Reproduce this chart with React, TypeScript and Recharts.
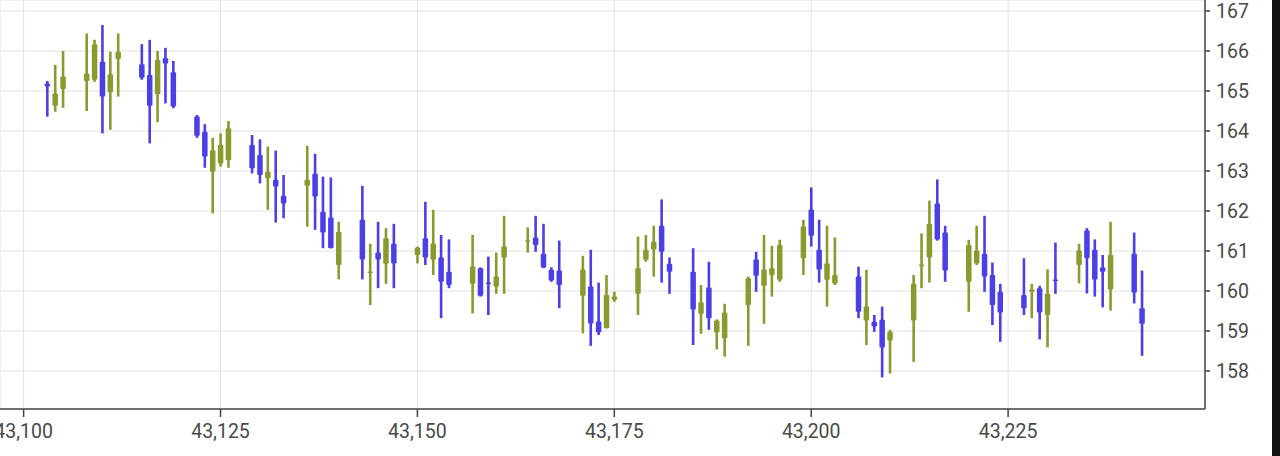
import React from 'react';
import { ComposedChart, Bar, XAxis, YAxis, CartesianGrid } from 'recharts';

const days = [
  43103, 43104, 43105, 43108, 43109, 43110, 43111, 43112, 43115, 43116,
  43117, 43118, 43119, 43122, 43123, 43124, 43125, 43126, 43129, 43130,
  43131, 43132, 43133, 43136, 43137, 43138, 43139, 43140, 43143, 43144,
  43145, 43146, 43147, 43150, 43151, 43152, 43153, 43154, 43157, 43158,
  43159, 43160, 43161, 43164, 43165, 43166, 43167, 43168, 43171, 43172,
  43173, 43174, 43175, 43178, 43179, 43180, 43181, 43182, 43185, 43186,
  43187, 43188, 43189, 43192, 43193, 43194, 43195, 43196, 43199, 43200,
  43201, 43202, 43203, 43206, 43207, 43208, 43209, 43210, 43213, 43214,
  43215, 43216, 43217, 43220, 43221, 43222, 43223, 43224, 43227, 43228,
  43229, 43230, 43231, 43234, 43235, 43236, 43237, 43238, 43241, 43242,
];

const opens = [
  165.19, 164.63, 165.05, 165.25, 165.28, 165.73, 164.97, 165.8, 165.67, 165.4,
  164.92, 165.82, 165.47, 164.36, 163.98, 162.98, 163.19, 163.27, 163.65, 163.4,
  162.82, 162.78, 162.38, 162.63, 162.93, 161.98, 161.84, 160.65, 161.78, 160.47,
  160.96, 160.68, 161.18, 160.9, 161.32, 160.78, 160.84, 160.48, 160.18, 160.57,
  160.21, 160.11, 160.84, 161.25, 161.34, 160.93, 160.53, 160.51, 159.88, 160.11,
  159.24, 159.07, 159.78, 159.93, 160.78, 161.04, 161.63, 160.68, 160.48, 159.43,
  160.09, 158.96, 158.82, 159.65, 160.79, 160.13, 160.4, 160.28, 160.82, 162.04,
  161.03, 160.28, 160.19, 160.36, 159.26, 159.23, 159.28, 158.76, 159.26, 160.64,
  160.84, 162.19, 161.46, 160.23, 160.69, 160.93, 160.4, 159.98, 159.9, 159.98,
  160.07, 159.4, 160.29, 160.65, 161.51, 161.03, 160.59, 160.04, 160.93, 159.57,
];

const highs = [
  165.25, 165.65, 166.0, 166.44, 166.28, 166.65, 165.98, 166.44, 166.17, 166.28,
  166.0, 166.08, 165.75, 164.4, 164.17, 163.83, 163.94, 164.25, 163.9, 163.79,
  163.61, 163.51, 162.9, 163.63, 163.43, 162.86, 162.84, 161.73, 162.63, 161.18,
  161.73, 161.57, 161.68, 161.11, 162.23, 162.03, 161.4, 161.29, 161.4, 160.59,
  160.86, 160.96, 161.88, 161.59, 161.88, 161.68, 160.59, 161.26, 160.88, 161.03,
  160.21, 160.4, 159.98, 161.36, 161.4, 161.63, 162.29, 160.84, 161.07, 160.15,
  160.73, 159.29, 159.68, 160.36, 160.98, 161.4, 161.13, 161.28, 161.78, 162.59,
  161.78, 161.63, 161.34, 160.61, 160.53, 159.4, 159.61, 159.03, 160.4, 161.44,
  162.26, 162.79, 161.63, 161.28, 161.63, 161.88, 160.71, 160.18, 160.82, 160.18,
  160.13, 160.54, 161.21, 161.18, 161.57, 161.29, 160.9, 161.73, 161.46, 160.51,
];

const lows = [
  164.36, 164.48, 164.58, 164.5, 165.23, 163.94, 164.03, 164.86, 165.28, 163.69,
  164.22, 164.69, 164.57, 163.83, 163.08, 161.94, 163.11, 163.08, 162.94, 162.69,
  162.03, 161.71, 161.82, 161.61, 161.53, 161.07, 161.07, 160.29, 160.29, 159.65,
  160.07, 160.18, 160.07, 160.69, 160.65, 160.4, 159.32, 160.07, 159.44, 159.86,
  159.4, 159.93, 159.93, 160.96, 160.98, 160.57, 160.23, 159.57, 158.94, 158.63,
  158.9, 159.07, 159.73, 159.4, 160.73, 160.36, 160.21, 159.93, 158.65, 158.93,
  159.03, 158.54, 158.36, 158.63, 159.98, 159.18, 159.86, 160.23, 160.4, 161.11,
  160.21, 159.61, 160.15, 159.32, 158.65, 158.98, 157.84, 157.94, 158.23, 160.07,
  160.21, 161.26, 160.23, 159.48, 160.65, 159.98, 159.15, 158.73, 159.4, 159.32,
  158.79, 158.59, 159.93, 160.19, 159.94, 159.86, 159.59, 159.51, 159.69, 158.38,
];

const closes = [
  165.11, 164.94, 165.36, 165.44, 166.17, 164.86, 165.42, 165.98, 165.33, 164.63,
  165.78, 165.69, 164.61, 163.88, 163.36, 163.52, 163.65, 164.07, 163.07, 162.9,
  162.98, 162.61, 162.19, 162.78, 162.36, 161.46, 161.07, 161.48, 160.79, 160.49,
  160.79, 161.32, 160.69, 161.09, 160.84, 161.19, 160.23, 160.15, 160.61, 159.88,
  160.19, 160.36, 161.11, 161.27, 161.15, 160.59, 160.26, 160.15, 160.54, 159.19,
  158.97, 159.9, 159.86, 160.57, 161.03, 161.23, 160.98, 160.48, 159.54, 159.71,
  159.32, 159.26, 159.46, 160.32, 160.38, 160.54, 160.57, 161.15, 161.61, 161.38,
  160.54, 160.69, 160.4, 159.48, 159.61, 159.11, 158.59, 158.98, 160.18, 160.66,
  161.68, 161.29, 160.51, 161.15, 161.01, 160.36, 159.65, 159.46, 159.57, 160.04,
  159.46, 159.93, 160.27, 161.01, 160.82, 160.29, 160.48, 160.9, 159.96, 159.18,
];

const xTicks = [43100, 43125, 43150, 43175, 43200, 43225];
const yTicks = [158, 159, 160, 161, 162, 163, 164, 165, 166, 167];

const UP = '#8b9a2e';
const DOWN = '#4b3fe6';

const data = days.map((d, i) => ({
  day: d,
  open: opens[i],
  high: highs[i],
  low: lows[i],
  close: closes[i],
  range: [lows[i], highs[i]],
}));

const Candle = (props: any) => {
  const { x, y, width, height, payload } = props;
  if (x == null || y == null) return null;
  const { open, close, high, low } = payload;
  const span = high - low;
  const ratio = span > 0 ? height / span : 0;
  const yOf = (v: number) => y + (high - v) * ratio;
  const cx = x + width / 2;
  const color = close >= open ? UP : DOWN;
  const top = yOf(Math.max(open, close));
  const bot = yOf(Math.min(open, close));
  const bodyH = Math.max(bot - top, 1.5);
  const bodyW = 5.5;
  const wickW = 2.6;
  return (
    <g>
      <rect x={cx - wickW / 2} y={y} width={wickW} height={Math.max(height, 1)} fill={color} />
      <rect x={cx - bodyW / 2} y={top} width={bodyW} height={bodyH} fill={color} rx={1} />
    </g>
  );
};

export default function App() {
  return (
    <div style={{ position: 'absolute', left: 0, top: 0, width: 1280, height: 456, background: '#fff', overflow: 'hidden' }}>
      <ComposedChart
        width={1280}
        height={456}
        data={data}
        margin={{ top: 0, right: 0, left: 0, bottom: 0 }}
      >
        <CartesianGrid stroke="#e2e2e2" strokeWidth={1} />
        <XAxis
          dataKey="day"
          type="number"
          domain={[43097, 43250]}
          allowDataOverflow
          ticks={xTicks}
          interval={0}
          tickFormatter={(v: number) => v.toLocaleString('en-US')}
          height={47}
          tickSize={8}
          tickMargin={7}
          stroke="#444"
          strokeWidth={1.5}
          tick={{ fill: '#4a4a4a', fontSize: 19.5, fontFamily: 'Roboto' }}
        />
        <YAxis
          orientation="right"
          type="number"
          domain={[157.05, 167.275]}
          allowDataOverflow
          ticks={yTicks}
          interval={0}
          width={75}
          tickSize={5}
          tickMargin={6}
          stroke="#444"
          strokeWidth={1.5}
          tick={{ fill: '#4a4a4a', fontSize: 19.5, fontFamily: 'Roboto' }}
        />
        <Bar dataKey="range" barSize={6} shape={Candle} isAnimationActive={false} />
      </ComposedChart>
      <div style={{ position: 'absolute', left: 1272, top: 0, width: 8, height: 456, background: '#111' }} />
    </div>
  );
}
